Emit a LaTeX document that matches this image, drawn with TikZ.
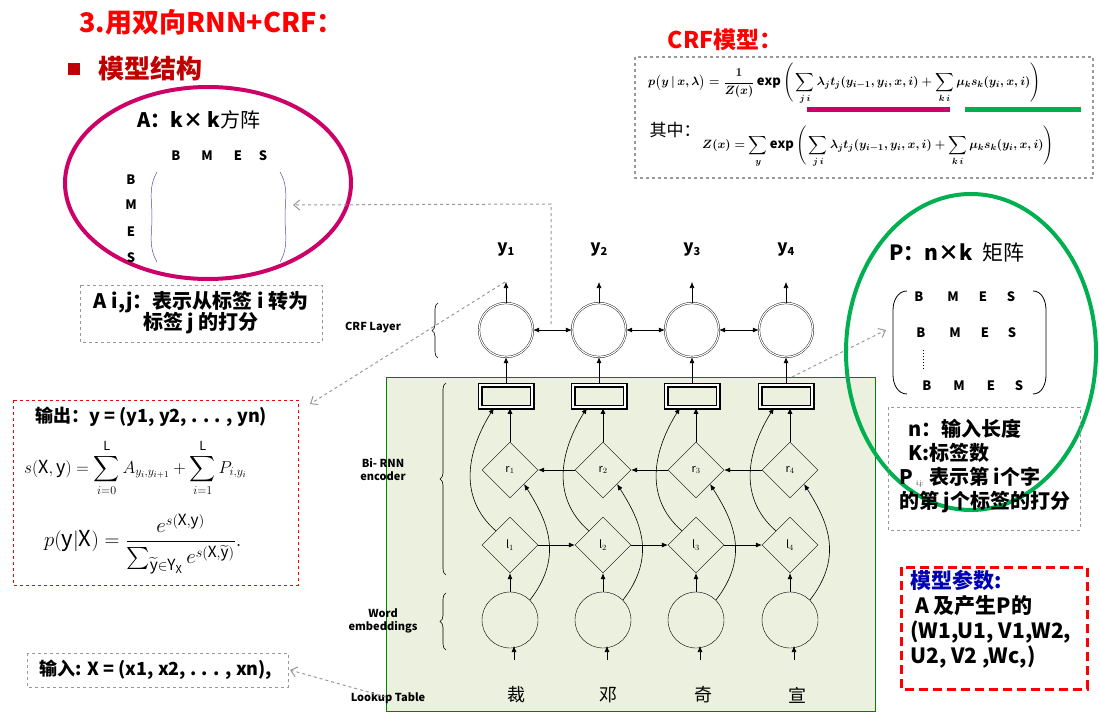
\documentclass[tikz,border=0pt]{standalone}
\usepackage{fontspec}
\usepackage{amsmath,amssymb}
\setmainfont{Noto Sans CJK SC}
\setsansfont{Noto Sans CJK SC}
\usetikzlibrary{arrows.meta,shapes.geometric,decorations.pathreplacing}
\definecolor{magc}{HTML}{CC0066}
\definecolor{grn}{HTML}{00B050}
\definecolor{dred}{HTML}{C00000}
\definecolor{bgg}{HTML}{EBF1DE}
\newcommand{\fs}[1]{\fontsize{#1}{\the\numexpr#1*6/5\relax}\selectfont}
\tikzset{
 gdash/.style={draw=gray!80,dashed,line width=0.8pt},
 garrow/.style={gray!80,dashed,line width=1pt,-{Straight Barb[length=6pt,width=10pt]}},
 crfc/.style={circle,draw,double,double distance=1.2pt,minimum size=54pt,inner sep=0pt},
 embc/.style={circle,draw,minimum size=56pt,inner sep=0pt},
 outr/.style={draw,double,double distance=1.8pt,line width=1.6pt,minimum width=52pt,minimum height=22pt,inner sep=0pt},
 dia/.style={diamond,draw,minimum size=56pt,inner sep=0pt,font=\fs{11}},
 ar/.style={-{Latex[length=6pt,width=5pt]},line width=0.6pt},
 lab/.style={font=\bfseries\fs{11},align=center},
 br/.style={decorate,decoration={brace,amplitude=6pt},line width=0.6pt}
}
\begin{document}
\begin{tikzpicture}[x=1pt,y=-1pt]
\useasboundingbox (0,0) rectangle (1099,714);
% titles
\node[anchor=west,text=red,font=\bfseries\fs{27}] (t1) at (76,22) {3.用双向RNN+CRF：};
\fill[dred] (68,63) rectangle (80,75);
\node[anchor=west,text=dred,font=\bfseries\fs{26}] (t2) at (95,69) {模型结构};
% A ellipse
\draw[magc,line width=4pt] (208,183) ellipse (143 and 96);
\node[font=\bfseries\fs{20}] (A) at (199,120) {A：k× k\mdseries 方阵};
\foreach \l/\x in {B/176,M/207,E/238,S/263} \node[font=\bfseries\fs{13}] at (\x,156) {\l};
\foreach \l/\y in {B/180,M/205,E/232,S/258} \node[font=\bfseries\fs{13}] at (131,\y) {\l};
\draw[blue!40!gray,line width=0.5pt] (157,172) to[out=240,in=90] (152,217) to[out=270,in=120] (157,262);
\draw[blue!40!gray,line width=0.5pt] (280,172) to[out=300,in=90] (285,217) to[out=270,in=60] (280,262);
\coordinate (Aar) at (293,205);
% A box
\draw[gdash] (80,285) rectangle (322,342);
\node[font=\bfseries\fs{20},align=center] (Abox) at (201,313) {A i,j：表示从标签 i 转为\\[-3pt]标签 j 的打分};
% CRF model
\node[text=red,font=\bfseries\fs{23}] (crft) at (725,40) {CRF模型：};
\draw[gdash,line width=1.2pt] (635,57) rectangle (1093,178);
\node[anchor=west,inner sep=0pt] (f1) at (648,84) {\fs{13}$\displaystyle\boldsymbol{p\big(y\,|\,x,\lambda\big)=\frac{1}{Z(x)}\exp\Bigg(\sum_{j\,i}\lambda_j t_j(y_{i-1},y_i,x,i)+\sum_{k\,i}\mu_k s_k(y_i,x,i)\Bigg)}$};
\fill[magc] (807,107) rectangle (950,112);
\fill[grn] (965,107) rectangle (1081,112);
\node[anchor=west,font=\fs{17}] (qz) at (646,130) {其中：};
\node[anchor=west,inner sep=0pt] (f2) at (702,147) {\fs{13}$\displaystyle\boldsymbol{Z(x)=\sum_{y}\exp\Bigg(\sum_{j\,i}\lambda_j t_j(y_{i-1},y_i,x,i)+\sum_{k\,i}\mu_k s_k(y_i,x,i)\Bigg)}$};
% green background
\draw[green!50!black,fill=bgg,line width=0.5pt] (386,377) rectangle (875,711);
% network
\foreach \i/\x in {1/506,2/599,3/692,4/786}{
 \node[crfc] (c\i) at (\x,330) {};
 \node[font=\bfseries\fs{17}] (y\i) at (\x,250) {y$_{\text{\fs{11}\i}}$};
 \coordinate (yt\i) at (\x,282);
 \draw[ar] (c\i.north) -- (yt\i);
 \node[outr] (o\i) at (\x,396) {};
 \draw[ar] (o\i.north) -- (c\i.south);
 \node[dia] (r\i) at (\x+4,470) {r$_\i$};
 \node[dia] (l\i) at (\x+4,545) {l$_\i$};
 \node[embc] (e\i) at (\x+4,620) {};
 \draw[ar] (r\i.north) -- (o\i.south-|r\i.north);
 \draw[ar] (e\i.north) -- (l\i.south);
 \coordinate (in\i) at (\x+8,660);
 \draw[ar] (in\i) -- ++(0,-14);
 \draw[ar] (l\i.north west) .. controls +(-40,-35) and +(-25,40) .. ([xshift=-12pt]o\i.south);
 \draw[ar] (e\i.north east) .. controls +(35,-45) and +(22,35) .. (r\i.south east);
}
\node[font=\fs{18}] (w1) at (516,695) {裁};
\node[font=\fs{18}] (w2) at (608,695) {邓};
\node[font=\fs{18}] (w3) at (703,695) {奇};
\node[font=\fs{18}] (w4) at (797,695) {宣};
\foreach \a/\b in {1/2,2/3,3/4}{
 \draw[{Latex[length=6pt,width=5pt]}-{Latex[length=6pt,width=5pt]},line width=0.6pt] (c\a.east) -- (c\b.west);
 \draw[ar] (l\a.east) -- (l\b.west);
 \draw[ar] (r\b.west) -- (r\a.east);
}
% braces + labels
\draw[br] (438,358) -- (438,303);
\draw[br] (446,575) -- (446,383);
\draw[br] (446,650) -- (446,593);
\node[lab] (crfl) at (373,328) {CRF Layer};
\node[lab] (birnn) at (383,470) {Bi- RNN\\encoder};
\node[lab] (we) at (383,621) {Word\\embeddings};
\node[lab] (lt) at (388,698) {Lookup Table};
% dashed connectors
\coordinate (d1) at (551,324);
\coordinate (d2) at (551,204);
\draw[garrow] (d1) -- (d2) -- (Aar);
\coordinate (g1) at (505,282);
\coordinate (g2) at (310,404);
\draw[garrow] (g1) -- (g2);
\coordinate (g3) at (792,377);
\coordinate (g4) at (886,330);
\draw[garrow] (g3) -- (g4);
\coordinate (g5) at (386,697);
\coordinate (g6) at (290,670);
\draw[garrow] (g5) -- (g6);
% output box
\draw[red,dashed,line width=0.8pt] (13,400) rectangle (298,585);
\node[anchor=west,font=\bfseries\fs{18}] (outt) at (32,417) {输出：y = (y1, y2, . . . , yn)};
\node[anchor=west,inner sep=0pt] (sf) at (24,468) {\fs{18}$\displaystyle s(\mathrm{X},\mathrm{y})=\sum_{i=0}^{\mathrm{L}}A_{y_i,y_{i+1}}+\sum_{i=1}^{\mathrm{L}}P_{i,y_i}$};
\node[anchor=west,inner sep=0pt] (pf) at (44,544) {\fs{22}$\displaystyle p(\mathrm{y}|\mathrm{X})=\frac{e^{s(\mathrm{X},\mathrm{y})}}{\sum_{\widetilde{\mathrm{y}}\in \mathrm{Y}_{\mathrm{X}}}e^{s(\mathrm{X},\widetilde{\mathrm{y}})}}.$};
% input box
\draw[gdash] (27,653) rectangle (288,687);
\node[font=\bfseries\fs{18}] (inp) at (156,670) {输入: X = (x1, x2, . . . , xn),};
% P ellipse
\draw[grn,line width=4pt] (971,352) ellipse (125 and 158);
\node[font=\bfseries\fs{21}] (P) at (957,253) {P：n×k \ \mdseries 矩阵};
\foreach \l/\x in {B/919,M/953,E/983,S/1011} \node[font=\bfseries\fs{13}] at (\x,297) {\l};
\foreach \l/\x in {B/921,M/955,E/985,S/1012} \node[font=\bfseries\fs{13}] at (\x,333) {\l};
\foreach \l/\x in {B/927,M/959,E/991,S/1019} \node[font=\bfseries\fs{13}] at (\x,386) {\l};
\draw[dotted,line width=1pt] (923,350) -- (923,369);
\draw[line width=0.8pt] (907,291) to[out=180,in=90] (893,310) -- (893,375) to[out=270,in=180] (907,394);
\draw[line width=0.8pt] (1033,291) to[out=0,in=90] (1046,310) -- (1046,375) to[out=270,in=0] (1033,394);
\draw[gdash] (888,407) rectangle (1080,530);
\node[anchor=west,font=\bfseries\fs{20},align=left,inner sep=0pt] (pt) at (899,466) {\ \ n：输入长度\\\ \ K:标签数\\P\,{\fs{9}$_{\mathrm{i,j:}}$} 表示第 i个字\\的第 j个标签的打分};
% params
\draw[red,dashed,line width=3pt,dash pattern=on 9pt off 5pt] (901,567) rectangle (1087,689);
\node[anchor=north west,font=\bfseries\fs{21},align=left,inner sep=0pt] (par) at (910,570) {\textcolor{blue!70!black}{模型参数:}\\\ A 及产生P的\\(W1,U1, V1,W2,\\U2, V2 ,Wc,)};
\end{tikzpicture}
\end{document}
